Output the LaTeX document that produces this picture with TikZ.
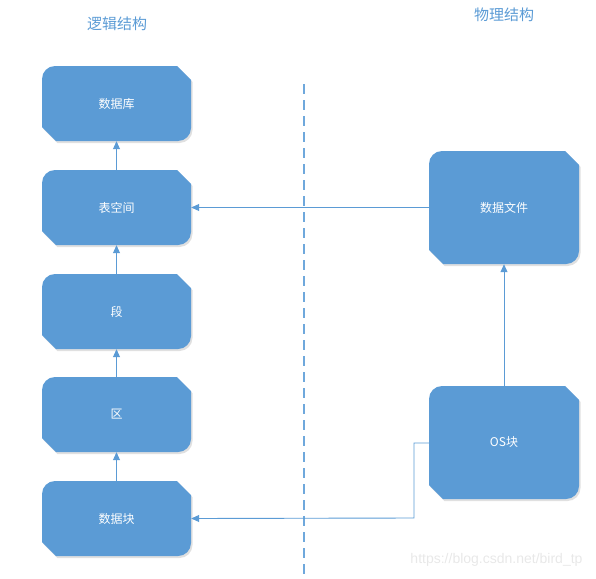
\documentclass[tikz,border=0pt]{standalone}
\usepackage{fontspec}
\newfontfamily\cjk{Noto Sans CJK SC}
\setsansfont{Liberation Sans}
\usetikzlibrary{arrows.meta}
\definecolor{boxblue}{HTML}{5B9BD5}
\definecolor{linkblue}{HTML}{5B9BD5}
\definecolor{dashblue}{HTML}{6FA8DC}
\definecolor{headblue}{HTML}{5B9BD5}
\tikzset{
  boxfill/.style={fill=boxblue},
  shadowfill/.style={fill=black, opacity=0.12},
  lbl/.style={text=white, font=\cjk\fontsize{12}{14}\selectfont, inner sep=0pt, draw=none},
  head/.style={text=headblue, font=\cjk\fontsize{15}{18}\selectfont},
  link/.style={draw=linkblue, line width=0.9pt, -{Triangle[length=8pt,width=7pt]}},
  divider/.style={draw=dashblue, line width=1.3pt, dash pattern=on 10pt off 6pt},
  wmark/.style={text=black!9, font=\sffamily\fontsize{14}{16}\selectfont}
}
% name, x1, y1, x2, y2, text
\newcommand\cbox[6]{%
  \pgfmathsetmacro\xm{(#2+#4)/2}\pgfmathsetmacro\ym{(#3+#5)/2}%
  \pgfmathsetmacro\xa{#4-14}\pgfmathsetmacro\ya{#3+14}%
  \pgfmathsetmacro\xb{#2+14}\pgfmathsetmacro\yb{#5-14}%
  \begin{scope}[shift={(1.5,2)}]
  \fill[shadowfill] (#2,\ym) [rounded corners=13pt] -- (#2,#3) -- (\xm,#3) [sharp corners] -- (\xa,#3) -- (#4,\ya) -- (#4,\ym) [rounded corners=13pt] -- (#4,#5) -- (\xm,#5) [sharp corners] -- (\xb,#5) -- (#2,\yb) -- cycle;
  \end{scope}
  \fill[boxfill] (#2,\ym) [rounded corners=13pt] -- (#2,#3) -- (\xm,#3) [sharp corners] -- (\xa,#3) -- (#4,\ya) -- (#4,\ym) [rounded corners=13pt] -- (#4,#5) -- (\xm,#5) [sharp corners] -- (\xb,#5) -- (#2,\yb) -- cycle;
  \node[lbl, minimum width={(#4-#2)*1pt}, minimum height={(#5-#3)*1pt}] (#1) at (\xm,\ym) {#6};%
}
\begin{document}
\begin{tikzpicture}[x=1pt,y=-1pt]
\useasboundingbox (0,0) rectangle (596,578);
\node[head] (hl) at (117,24) {逻辑结构};
\node[head] (hr) at (504,15) {物理结构};
\coordinate (dtop) at (304,84);
\coordinate (dbot) at (304,578);
\draw[divider] (dtop) -- (dbot);
\cbox{db}{42}{66}{191}{141}{数据库}
\cbox{ts}{42}{170}{191}{245}{表空间}
\cbox{seg}{42}{274}{191}{349}{段}
\cbox{ext}{42}{377}{191}{452}{区}
\cbox{blk}{42}{481}{191}{556}{数据块}
\cbox{df}{429}{151}{579}{264}{数据文件}
\cbox{os}{429}{386}{579}{499}{OS块}
\draw[link] (ts.north) -- (db.south);
\draw[link] (seg.north) -- (ts.south);
\draw[link] (ext.north) -- (seg.south);
\draw[link] (blk.north) -- (ext.south);
\draw[link] (df.west) -- (ts.east);
\draw[link] (os.north) -- (df.south);
\coordinate (bend1) at (414,443);
\coordinate (bend2) at (414,518);
\draw[link] (os.west |- bend1) -- (bend1) -- (bend2) -- (blk.east);
\node[wmark, anchor=east] (wm) at (586,560) {https://blog.csdn.net/bird\_tp};
\end{tikzpicture}
\end{document}
